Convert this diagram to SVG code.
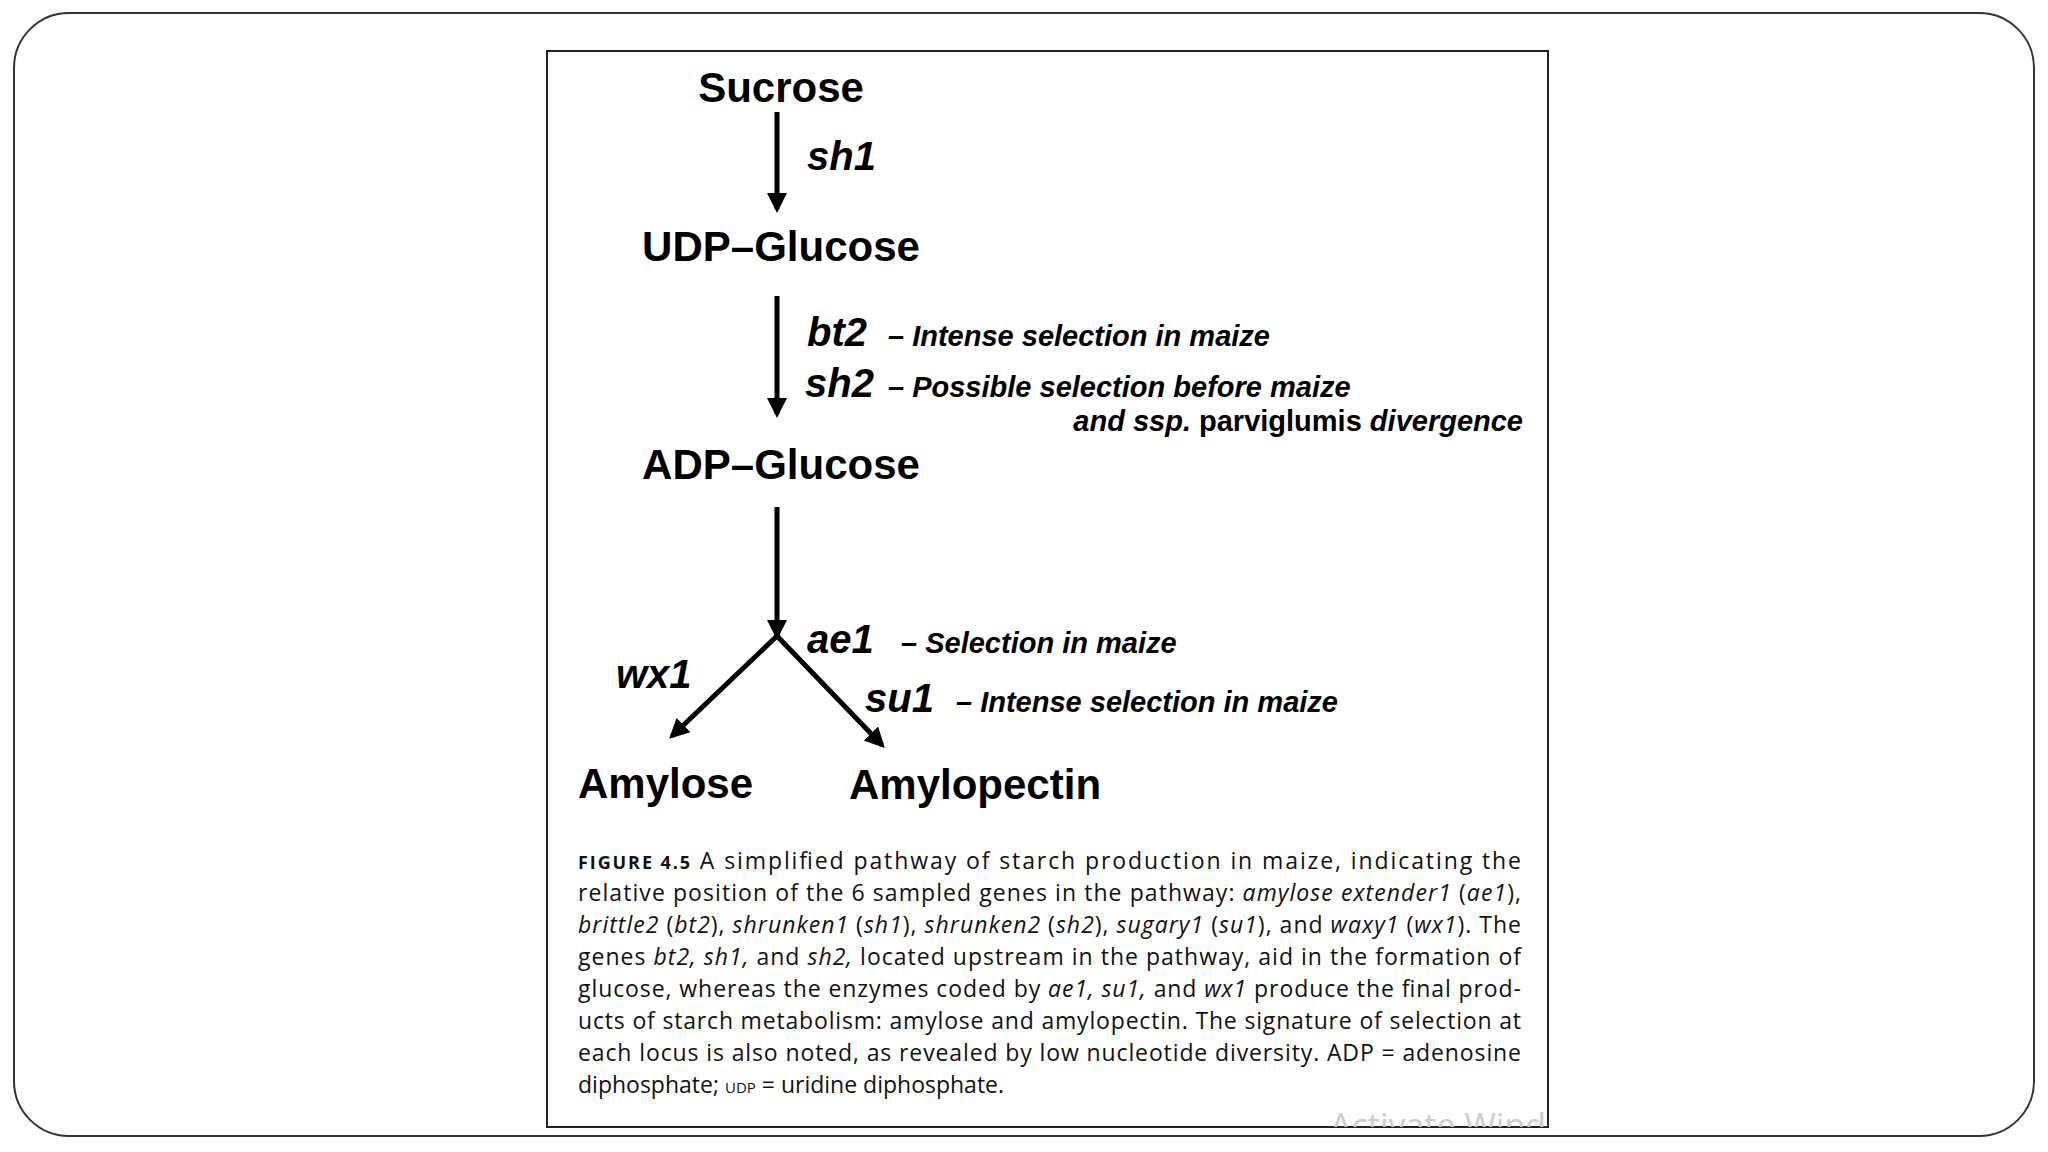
<svg xmlns="http://www.w3.org/2000/svg" width="2048" height="1152" viewBox="0 0 2048 1152">
<style>
.n{font-family:"Liberation Sans",Arial,sans-serif;font-weight:bold;font-size:42px;fill:#000}
.g{font-family:"Liberation Sans",Arial,sans-serif;font-weight:bold;font-style:italic;font-size:40px;fill:#000}
.s{font-family:"Liberation Sans",Arial,sans-serif;font-weight:bold;font-style:italic;font-size:29px;fill:#000}
.c{font-family:"Open Sans","Liberation Sans",sans-serif;font-size:23px;fill:#111}
.c tspan.i{font-style:italic}
.e{stroke:#000;stroke-width:5;fill:none;marker-end:url(#ah)}
</style>
<defs>
<marker id="ah" viewBox="0 0 10 10" refX="8" refY="5" markerWidth="4" markerHeight="4.4" orient="auto" markerUnits="strokeWidth"><path d="M0,0 L10,5 L0,10 z" fill="#000"/></marker>
<clipPath id="bx"><rect x="547" y="51" width="1001" height="1076"/></clipPath>
</defs>
<rect x="14" y="13" width="2020" height="1123" rx="55" fill="#fff" stroke="#333" stroke-width="2"/>
<rect x="547" y="51" width="1001" height="1076" fill="#fff" stroke="#222" stroke-width="2"/>
<g id="connectors">
<line class="e" x1="777" y1="112" x2="777" y2="209"/>
<line class="e" x1="777" y1="296" x2="777" y2="414"/>
<line class="e" x1="777" y1="507" x2="777" y2="636"/>
<line class="e" x1="777" y1="636" x2="672" y2="736"/>
<line class="e" x1="777" y1="636" x2="882" y2="745"/>
</g>
<g id="sucrose"><text class="n" x="781" y="102" text-anchor="middle">Sucrose</text></g>
<g id="udp"><text class="n" x="781" y="261" text-anchor="middle">UDP–Glucose</text></g>
<g id="adp"><text class="n" x="781" y="479" text-anchor="middle">ADP–Glucose</text></g>
<g id="amylose"><text class="n" x="578" y="798">Amylose</text></g>
<g id="amylopectin"><text class="n" x="849" y="799">Amylopectin</text></g>
<g id="labels">
<text class="g" x="807" y="170">sh1</text>
<text class="g" x="807" y="346">bt2</text><text class="s" x="888" y="346">– Intense selection in maize</text>
<text class="g" x="805" y="397">sh2</text><text class="s" x="888" y="397">– Possible selection before maize</text>
<text class="s" x="1523" y="431" text-anchor="end">and ssp. <tspan font-style="normal">parviglumis</tspan> divergence</text>
<text class="g" x="616" y="688">wx1</text>
<text class="g" x="807" y="653">ae1</text><text class="s" x="901" y="653">– Selection in maize</text>
<text class="g" x="865" y="712">su1</text><text class="s" x="956" y="712">– Intense selection in maize</text>
</g>
<g id="caption">
<text class="c" x="578" y="869" textLength="943" lengthAdjust="spacing"><tspan font-weight="bold" font-size="18">FIGURE 4.5</tspan>  A simplified pathway of starch production in maize, indicating the</text>
<text class="c" x="578" y="901" textLength="943" lengthAdjust="spacing">relative position of the 6 sampled genes in the pathway: <tspan class="i">amylose extender1</tspan> (<tspan class="i">ae1</tspan>),</text>
<text class="c" x="578" y="933" textLength="943" lengthAdjust="spacing"><tspan class="i">brittle2</tspan> (<tspan class="i">bt2</tspan>), <tspan class="i">shrunken1</tspan> (<tspan class="i">sh1</tspan>), <tspan class="i">shrunken2</tspan> (<tspan class="i">sh2</tspan>), <tspan class="i">sugary1</tspan> (<tspan class="i">su1</tspan>), and <tspan class="i">waxy1</tspan> (<tspan class="i">wx1</tspan>). The</text>
<text class="c" x="578" y="965" textLength="943" lengthAdjust="spacing">genes <tspan class="i">bt2, sh1,</tspan> and <tspan class="i">sh2,</tspan> located upstream in the pathway, aid in the formation of</text>
<text class="c" x="578" y="997" textLength="943" lengthAdjust="spacing">glucose, whereas the enzymes coded by <tspan class="i">ae1, su1,</tspan> and <tspan class="i">wx1</tspan> produce the final prod-</text>
<text class="c" x="578" y="1029" textLength="943" lengthAdjust="spacing">ucts of starch metabolism: amylose and amylopectin. The signature of selection at</text>
<text class="c" x="578" y="1061" textLength="943" lengthAdjust="spacing">each locus is also noted, as revealed by low nucleotide diversity. ADP = adenosine</text>
<text class="c" x="578" y="1093">diphosphate; <tspan font-size="15">UDP</tspan> = uridine diphosphate.</text>
</g>
<g clip-path="url(#bx)"><text x="1330" y="1138" font-family="'Open Sans',sans-serif" font-size="34" fill="#ccc">Activate Windows</text></g>
</svg>
